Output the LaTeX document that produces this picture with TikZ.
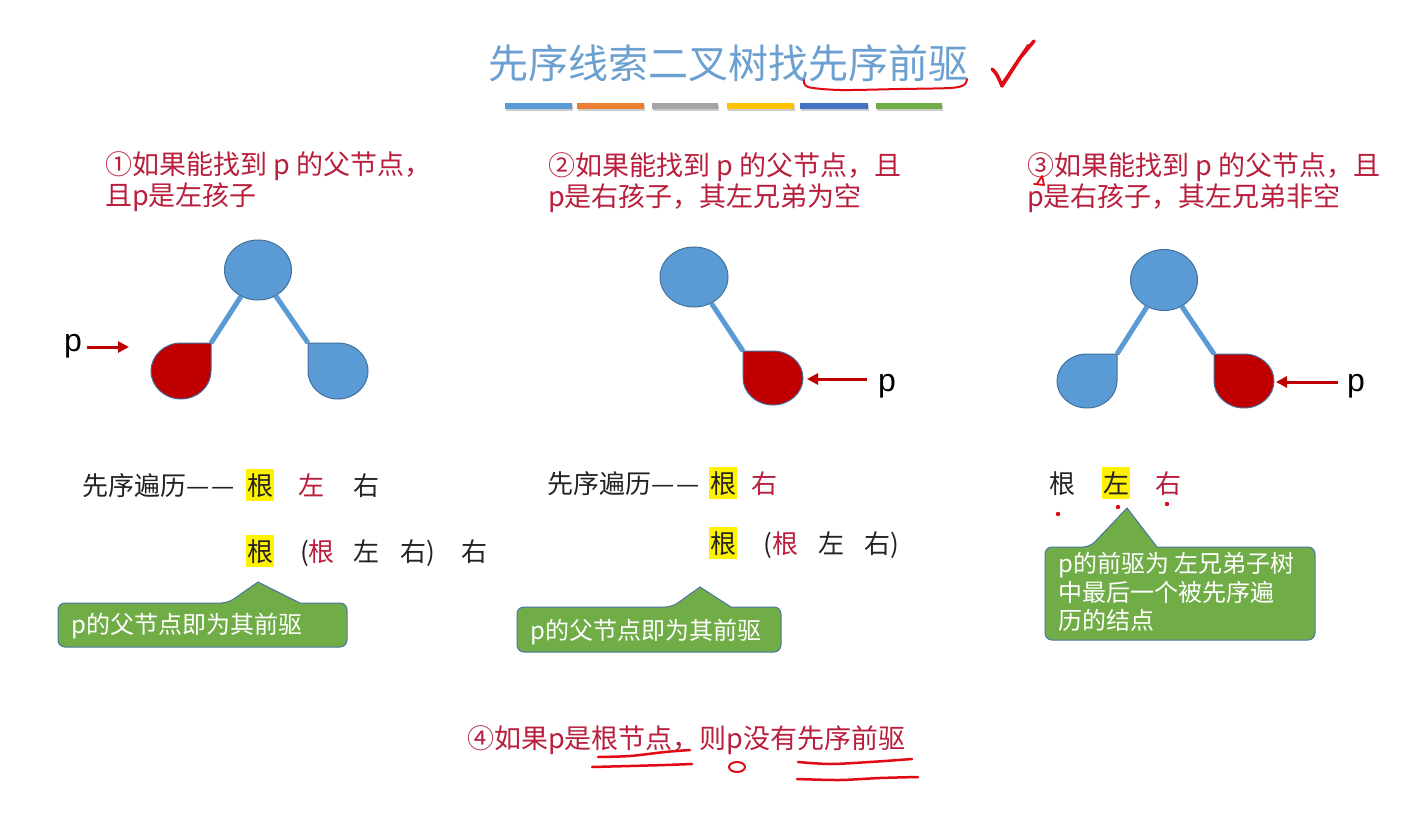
\documentclass[tikz,border=0pt]{standalone}
\usepackage{fontspec}
\setmainfont{Noto Sans CJK SC}
\newfontfamily\latf{Liberation Sans}
\usetikzlibrary{shapes.geometric,arrows.meta}
\newcommand\myfs[1]{\fontsize{#1}{#1}\selectfont}
\definecolor{tblue}{RGB}{108,160,208}
\definecolor{nblue}{RGB}{91,155,213}
\definecolor{nborder}{RGB}{65,113,156}
\definecolor{nred}{RGB}{192,0,0}
\definecolor{tred}{RGB}{185,30,60}
\definecolor{hred}{RGB}{225,10,20}
\definecolor{tblack}{RGB}{35,35,35}
\definecolor{cgreen}{RGB}{112,173,71}
\definecolor{cborder}{RGB}{75,115,165}
\definecolor{bar1}{RGB}{91,155,213}
\definecolor{bar2}{RGB}{237,125,49}
\definecolor{bar3}{RGB}{165,165,165}
\definecolor{bar4}{RGB}{255,192,0}
\definecolor{bar5}{RGB}{68,114,196}
\definecolor{bar6}{RGB}{112,173,71}
\tikzset{
  txt/.style={inner sep=0pt, anchor=base west},
  title/.style={txt, text=tblue, font={\myfs{40}}},
  head/.style={txt, text=tred, font={\myfs{27}}},
  trav/.style={txt, text=tblack, font={\myfs{26}}},
  travr/.style={trav, text=tred},
  hl/.style={trav, fill=yellow, inner xsep=1pt, inner ysep=3pt, text height=23pt, text depth=3pt},
  ctext/.style={txt, text=white, font={\myfs{24}}},
  plabel/.style={txt, text=black, font={\latf\myfs{32}}},
  rootnode/.style={ellipse, draw=nborder, fill=nblue, line width=1pt, inner sep=0pt, minimum width=67pt, minimum height=60pt},
  bdrop/.style={fill=nblue, draw=nborder, line width=1pt},
  rdrop/.style={fill=nred, draw=nborder, line width=1pt},
  tedge/.style={draw=nblue, line width=5pt},
  parrow/.style={draw=nred, line width=3pt, -{Triangle[length=11pt,width=11pt]}},
  callout/.style={fill=cgreen, draw=cborder, line width=1pt},
  hand/.style={draw=hred, line width=3pt, line cap=round, line join=round},
}
\begin{document}
\begin{tikzpicture}[x=1pt,y=-1pt]
\fill[white] (0,0) rectangle (1411,813);
\useasboundingbox (0,0) rectangle (1411,813);

% title
\node[title] (ttl) at (488,79) {先序线索二叉树找先序前驱};
\draw[hand, line width=2pt] plot[smooth] coordinates {(804,80) (808,87) (840,90) (900,89) (950,88) (964,85) (967,79)};
\draw[hand, line width=3.5pt] plot[smooth] coordinates {(992,69) (997,75) (1002,86)} -- (1020,58) -- (1034,41);
\draw[hand, line width=2pt] (1003,82) -- (1028,45);

% colour bars
\foreach \a/\b/\c in {505/572/bar1, 577/644/bar2, 652/718/bar3, 727/794/bar4, 800/868/bar5, 876/942/bar6}{
  \fill[black!20] (\a+1,105) rectangle (\b+1,111);
  \fill[\c] (\a,103) rectangle (\b,109);
}

% headings
\node[head] (h1a) at (105,175) {①如果能找到 p 的父节点，};
\node[head] (h1b) at (105,206) {且p是左孩子};
\node[head] (h2a) at (548,176) {②如果能找到 p 的父节点，且};
\node[head] (h2b) at (548,207) {p是右孩子，其左兄弟为空};
\node[head] (h3a) at (1027,176) {③如果能找到 p 的父节点，且};
\node[head] (h3b) at (1027,207) {p是右孩子，其左兄弟非空};
\draw[hand, line width=1.8pt] (1037,184) -- (1042,176) -- (1044,185) -- (1034,184);

% tree 1
\node[rootnode] (r1) at (258,270) {};
\coordinate (l1) at (211,343);
\coordinate (rr1) at (308,343);
\draw[tedge] (r1) -- (l1);
\draw[tedge] (r1) -- (rr1);
\draw[rdrop] (181,343) -- (l1) -- (211,371) arc[start angle=0, end angle=270, x radius=30, y radius=28] -- cycle;
\draw[bdrop] (338,343) -- (rr1) -- (308,371) arc[start angle=180, end angle=-90, x radius=30, y radius=28] -- cycle;
\node[plabel] (p1) at (64,351) {p};
\coordinate (a1s) at (87,347);
\coordinate (a1e) at (129,347);
\draw[parrow] (a1s) -- (a1e);

% tree 2
\node[rootnode, minimum width=68pt] (r2) at (694,277) {};
\coordinate (c2) at (743,351);
\draw[tedge] (r2) -- (c2);
\draw[rdrop] (773,351) -- (c2) -- (743,378) arc[start angle=180, end angle=-90, x radius=30, y radius=27] -- cycle;
\node[plabel] (p2) at (878,391) {p};
\coordinate (a2s) at (867,379);
\coordinate (a2e) at (807,379);
\draw[parrow] (a2s) -- (a2e);

% tree 3
\node[rootnode, minimum height=61pt] (r3) at (1164,280) {};
\coordinate (l3) at (1117,354);
\coordinate (c3) at (1214,354);
\draw[tedge] (r3) -- (l3);
\draw[tedge] (r3) -- (c3);
\draw[bdrop] (1087,354) -- (l3) -- (1117,381) arc[start angle=0, end angle=270, x radius=30, y radius=27] -- cycle;
\draw[rdrop] (1244,354) -- (c3) -- (1214,381) arc[start angle=180, end angle=-90, x radius=30, y radius=27] -- cycle;
\node[plabel] (p3) at (1347,391) {p};
\coordinate (a3s) at (1338,382);
\coordinate (a3e) at (1276,382);
\draw[parrow] (a3s) -- (a3e);

% traversal 1
\node[trav] (t1a) at (82,495) {先序遍历—\hspace{2pt}—};
\node[hl] (t1b) at (246,495) {根};
\node[travr] (t1c) at (298,495) {左};
\node[trav] (t1d) at (353,495) {右};
\node[hl] (t1e) at (246,561) {根};
\node[trav] (t1f) at (300,561) {(};
\node[travr] (t1g) at (308,561) {根};
\node[trav] (t1h) at (353,561) {左};
\node[trav] (t1i) at (400,561) {右)};
\node[trav] (t1j) at (461,561) {右};
\draw[callout, rounded corners=7pt] (58,625) -- (58,603) -- (228,603) [sharp corners] -- (258,582) -- (300,603) [rounded corners=7pt] -- (347,603) -- (347,647) -- (58,647) -- cycle;
\node[ctext] (c1t) at (71,633) {p的父节点即为其前驱};

% traversal 2
\node[trav] (t2a) at (547,493) {先序遍历—\hspace{2pt}—};
\node[hl] (t2b) at (709,493) {根};
\node[travr] (t2c) at (751,493) {右};
\node[hl] (t2d) at (709,553) {根};
\node[trav] (t2e) at (763,553) {(};
\node[travr] (t2f) at (772,553) {根};
\node[trav] (t2g) at (818,553) {左};
\node[trav] (t2h) at (864,553) {右)};
\draw[callout, rounded corners=7pt] (517,630) -- (517,607) -- (672,607) [sharp corners] -- (700,587) -- (731,607) [rounded corners=7pt] -- (781,607) -- (781,652) -- (517,652) -- cycle;
\node[ctext] (c2t) at (530,639) {p的父节点即为其前驱};

% traversal 3
\node[trav] (t3a) at (1049,493) {根};
\node[hl] (t3b) at (1102,493) {左};
\node[travr] (t3c) at (1155,493) {右};
\fill[hred] (1058,514) circle (2.2);
\fill[hred] (1118,507) circle (2.2);
\fill[hred] (1167,504) circle (2.2);
\draw[callout, rounded corners=7pt] (1045,590) -- (1045,547) -- (1090,547) [sharp corners] -- (1127,508) -- (1157,547) [rounded corners=7pt] -- (1315,547) -- (1315,640) -- (1045,640) -- cycle;
\node[ctext] (c3a) at (1058,572) {p的前驱为 左兄弟子树};
\node[ctext] (c3b) at (1058,601) {中最后一个被先序遍};
\node[ctext] (c3c) at (1058,629) {历的结点};

% bottom
\node[head] (bt) at (467,748) {④如果p是根节点，则p没有先序前驱};
\draw[hand, line width=2.5pt] plot[smooth] coordinates {(598,757) (630,756) (665,752) (690,750)};
\draw[hand, line width=2.5pt] plot[smooth] coordinates {(592,767) (630,766) (665,765) (692,764)};
\draw[hand, line width=2pt] (737,767) ellipse[x radius=8, y radius=5];
\draw[hand, line width=2.5pt] plot[smooth] coordinates {(798,762) (830,764) (870,762) (912,759)};
\draw[hand, line width=2.5pt] plot[smooth] coordinates {(797,779) (840,780) (880,778) (918,777)};
\end{tikzpicture}
\end{document}
